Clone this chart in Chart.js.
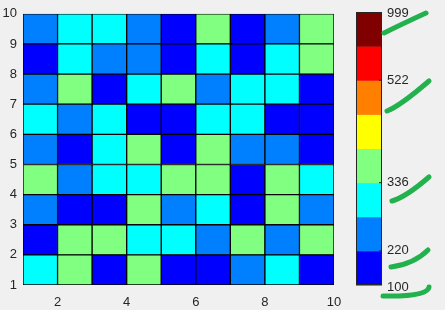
<!DOCTYPE html>
<html>
<head>
<meta charset="utf-8">
<script src="https://cdn.jsdelivr.net/npm/chart.js@4/dist/chart.umd.min.js"></script>
<style>
  html, body { margin: 0; padding: 0; background: #f0f0f0; }
  #wrap { width: 445px; height: 310px; position: relative; }
</style>
</head>
<body>
<div id="wrap"><canvas id="grafico"></canvas></div>
<script>
// Ticks de los ejes
const xTicks = [2, 4, 6, 8, 10];
const yTicks = [1, 2, 3, 4, 5, 6, 7, 8, 9, 10];

// Mapa de colores discreto (de abajo hacia arriba en la barra)
const colormap = ['#0000ff', '#0080ff', '#00ffff', '#80ff80', '#ffff00', '#ff8000', '#ff0000', '#800000'];

// Etiquetas de la barra de color y el nivel (frontera) donde van
const cbLabels = ['999', '522', '336', '220', '100'];
const cbLevels = [8, 6, 3, 1, 0];

// Indice de color de cada celda, una fila por valor de y (de y=1 a y=9)
const fila1 = [2, 3, 0, 3, 0, 0, 1, 2, 0];
const fila2 = [0, 3, 3, 2, 2, 1, 3, 1, 3];
const fila3 = [1, 0, 0, 3, 1, 2, 0, 3, 1];
const fila4 = [3, 1, 2, 2, 3, 3, 0, 3, 2];
const fila5 = [1, 0, 2, 3, 0, 3, 1, 1, 0];
const fila6 = [2, 1, 2, 0, 0, 2, 2, 0, 0];
const fila7 = [1, 3, 0, 2, 3, 1, 2, 2, 0];
const fila8 = [0, 2, 1, 1, 0, 2, 0, 2, 3];
const fila9 = [1, 2, 2, 1, 0, 3, 0, 1, 3];
const filas = [fila1, fila2, fila3, fila4, fila5, fila6, fila7, fila8, fila9];

const textColor = '#262626';
const fuente = { family: '"Liberation Sans", Arial, sans-serif', size: 13 };

// Una serie de barras flotantes por fila
const datasets = filas.map((fila, r) => ({
    data: fila.map((c, i) => ({ x: i + 1.5, y: [r + 1, r + 2] })),
    backgroundColor: fila.map(c => colormap[c]),
    borderColor: '#000',
    borderWidth: 1,
    borderSkipped: false,
    grouped: false,
    barPercentage: 1,
    categoryPercentage: 1
}));

// Barra de color y trazos verdes a mano
const colorbarPlugin = {
    id: 'colorbar',
    afterDraw(chart) {
        const ctx = chart.ctx;
        const x0 = 356, w = 26, top = 12, bottom = 285;
        const h = (bottom - top) / colormap.length;
        ctx.save();
        colormap.forEach((col, i) => {
            ctx.fillStyle = col;
            ctx.fillRect(x0, bottom - (i + 1) * h, w, h + 0.5);
        });
        ctx.strokeStyle = '#262626';
        ctx.lineWidth = 1;
        ctx.strokeRect(x0 + 0.5, top + 0.5, w - 1, bottom - top - 1);
        ctx.fillStyle = textColor;
        ctx.font = fuente.size + 'px ' + fuente.family;
        ctx.textBaseline = 'middle';
        ctx.textAlign = 'left';
        cbLabels.forEach((lab, i) => {
            let y = bottom - cbLevels[i] * h;
            if (cbLevels[i] > 0 && cbLevels[i] < colormap.length) {
                ctx.beginPath();
                ctx.moveTo(x0 + w - 3, y);
                ctx.lineTo(x0 + w, y);
                ctx.stroke();
            }
            if (cbLevels[i] === colormap.length) y += 1;
            if (cbLevels[i] === 0) y += 2;
            ctx.fillText(lab, 387, y);
        });

        // trazos verdes
        ctx.strokeStyle = '#22b14c';
        ctx.lineWidth = 5;
        ctx.lineCap = 'round';
        ctx.lineJoin = 'round';
        const trazos = [
            [[384, 33], [402, 24], [426, 13]],
            [[387, 111], [400, 106], [429, 81]],
            [[392, 201], [406, 197], [429, 177]],
            [[391, 267], [414, 264], [428, 250]],
            [[383, 296], [428, 297], [429, 287]]
        ];
        trazos.forEach(t => {
            ctx.beginPath();
            ctx.moveTo(t[0][0], t[0][1]);
            ctx.quadraticCurveTo(t[1][0], t[1][1], t[2][0], t[2][1]);
            ctx.stroke();
        });
        ctx.restore();
    }
};

const grafico = new Chart(document.getElementById('grafico'), {
    type: 'bar',
    data: { datasets: datasets },
    options: {
        responsive: true,
        maintainAspectRatio: false,
        animation: false,
        layout: { padding: { left: 0, right: 111, top: 11, bottom: 0 } },
        plugins: {
            legend: { display: false },
            tooltip: { enabled: false }
        },
        scales: {
            x: {
                type: 'linear',
                min: 1,
                max: 10,
                offset: false,
                grid: { display: false, drawTicks: false },
                border: { display: false },
                ticks: { color: textColor, font: fuente, padding: 10, maxRotation: 0 },
                afterBuildTicks: axis => { axis.ticks = xTicks.map(v => ({ value: v })); },
                afterFit: axis => { axis.height = 25; }
            },
            y: {
                type: 'linear',
                min: 1,
                max: 10,
                grid: { display: false, drawTicks: false },
                border: { display: false },
                ticks: { color: textColor, font: fuente, padding: 6 },
                afterBuildTicks: axis => { axis.ticks = yTicks.map(v => ({ value: v })); },
                afterFit: axis => { axis.width = 23; }
            }
        }
    },
    plugins: [colorbarPlugin]
});
</script>
</body>
</html>
